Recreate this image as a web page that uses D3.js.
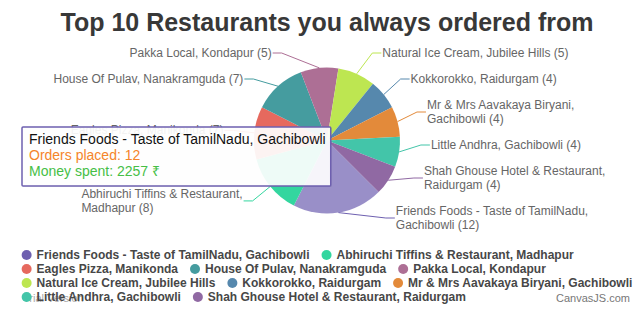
<!DOCTYPE html>
<html>
<head>
<meta charset="utf-8">
<script src="https://cdn.jsdelivr.net/npm/d3@7"></script>
<style>
  body { margin: 0; background: #fff; }
  svg { display: block; font-family: "Liberation Sans", Arial, sans-serif; }
</style>
</head>
<body>
<div id="chart"></div>
<script>
// data
const restaurants = [
  "Friends Foods - Taste of TamilNadu, Gachibowli",
  "Abhiruchi Tiffins & Restaurant, Madhapur",
  "Eagles Pizza, Manikonda",
  "House Of Pulav, Nanakramguda",
  "Pakka Local, Kondapur",
  "Natural Ice Cream, Jubilee Hills",
  "Kokkorokko, Raidurgam",
  "Mr & Mrs Aavakaya Biryani, Gachibowli",
  "Little Andhra, Gachibowli",
  "Shah Ghouse Hotel & Restaurant, Raidurgam"
];
const orders = [12, 8, 7, 7, 5, 5, 4, 4, 4, 4];
const sliceColors = ["#6e60b0", "#33d69f", "#e6695e", "#459c9f", "#ad6f95",
  "#bde651", "#5688ad", "#e38a3a", "#43c5a9", "#9069a3"];

// tooltip shown for the hovered slice
const hoveredIndex = 0;
const moneySpent = 2257;

const titleText = "Top 10 Restaurants you always ordered from";

const width = 635, height = 319;
const cx = 327, cy = 140.5, radius = 73;
const labelRadius = 103, labelYRadius = 96;
const plotTop = 46, plotBottom = 232;
const lineH = 14, labelGap = 12, labelMaxW = 200;

const svg = d3.select("#chart").append("svg")
  .attr("width", width)
  .attr("height", height);

// titulo
svg.append("text")
  .attr("x", cx)
  .attr("y", 31)
  .attr("text-anchor", "middle")
  .attr("font-size", 25)
  .attr("font-weight", "bold")
  .attr("fill", "#383838")
  .text(titleText);

// helper to measure text widths
const measure = svg.append("text").attr("font-size", 12).attr("x", -999);
function textW(s, size, weight) {
  measure.attr("font-size", size).attr("font-weight", weight || "normal").text(s);
  return measure.node().getComputedTextLength();
}

const pie = d3.pie().sort(null).value(d => d)
  .startAngle(Math.PI * 0.75)
  .endAngle(Math.PI * 2.75);
const arcs = pie(orders);
const arc = d3.arc().innerRadius(0).outerRadius(radius);

const pieG = svg.append("g").attr("transform", `translate(${cx},${cy})`);
pieG.selectAll("path")
  .data(arcs)
  .join("path")
  .attr("d", arc)
  .attr("fill", (d, i) => sliceColors[i])
  .attr("fill-opacity", (d, i) => i === hoveredIndex ? 0.7 : 1);

// index labels
function wrapWords(s, maxW) {
  const words = s.split(" ");
  const lines = [];
  let cur = "";
  words.forEach(w => {
    const t = cur ? cur + " " + w : w;
    if (cur && textW(t, 12) > maxW) { lines.push(cur); cur = w; }
    else cur = t;
  });
  lines.push(cur);
  return lines;
}

const labels = arcs.map((a, i) => {
  const theta = (a.startAngle + a.endAngle) / 2 - Math.PI / 2;
  const lines = wrapWords(`${restaurants[i]} (${orders[i]})`, labelMaxW);
  return {
    i, theta, lines,
    right: Math.cos(theta) >= 0,
    h: lines.length * lineH,
    w: d3.max(lines, ln => textW(ln, 12)),
    y: cy + labelYRadius * Math.sin(theta)
  };
});

[true, false].forEach(side => {
  const s = labels.filter(l => l.right === side).sort((a, b) => a.y - b.y);
  // push down from top
  s.forEach((l, k) => {
    let minY = plotTop + l.h / 2;
    if (k > 0) minY = Math.max(minY, s[k - 1].y + s[k - 1].h / 2 + labelGap + l.h / 2);
    l.y = Math.max(l.y, minY);
  });
  // push up from bottom
  for (let k = s.length - 1; k >= 0; k--) {
    const l = s[k];
    let maxY = plotBottom - l.h / 2;
    if (k < s.length - 1) maxY = Math.min(maxY, s[k + 1].y - s[k + 1].h / 2 - labelGap - l.h / 2);
    l.y = Math.min(l.y, maxY);
  }
});

labels.forEach(l => {
  const dy = l.y - cy;
  const dx = Math.sqrt(Math.max(0, labelRadius * labelRadius - dy * dy));
  l.x = l.right ? cx + dx : cx - dx;
});

const labelG = svg.append("g");
labelG.selectAll("path")
  .data(labels)
  .join("path")
  .attr("fill", "none")
  .attr("stroke", d => sliceColors[d.i])
  .attr("stroke-width", 1)
  .attr("d", d => {
    const ex = cx + radius * Math.cos(d.theta), ey = cy + radius * Math.sin(d.theta);
    const kx = d.right ? d.x - 9 : d.x + 9;
    return `M${ex},${ey}L${kx},${d.y}L${d.x},${d.y}`;
  });

// label block is left aligned inside its box on both sides
labelG.selectAll("text")
  .data(labels)
  .join("text")
  .attr("font-size", 12)
  .attr("fill", "#666")
  .each(function (d) {
    const t = d3.select(this);
    const x0 = d.right ? d.x + 1 : d.x - 1 - d.w;
    d.lines.forEach((ln, k) => {
      t.append("tspan")
        .attr("x", x0)
        .attr("y", d.y - (d.lines.length - 1) * lineH / 2 + k * lineH + 4)
        .text(ln);
    });
  });

// legend
const legendMaxW = 620, itemGap = 12, markerR = 5;
const items = restaurants.map((name, i) => ({ name, i, w: 2 * markerR + 5 + textW(name, 12, "bold") }));
const rows = [[]];
let rowW = 0;
items.forEach(it => {
  const need = rowW === 0 ? it.w : rowW + itemGap + it.w;
  if (rowW > 0 && need > legendMaxW) { rows.push([it]); rowW = it.w; }
  else { rows[rows.length - 1].push(it); rowW = need; }
});
const rowWidths = rows.map(r => d3.sum(r, it => it.w) + itemGap * (r.length - 1));
const legendX = cx - d3.max(rowWidths) / 2;
const legendY = 255;

// watermark text sits under the legend
svg.append("text")
  .attr("x", 23).attr("y", 302)
  .attr("font-size", 11).attr("fill", "#aaa")
  .text("Trial Version");
svg.append("text")
  .attr("x", 630).attr("y", 302)
  .attr("text-anchor", "end")
  .attr("font-size", 11).attr("fill", "#777")
  .text("CanvasJS.com");

const legendG = svg.append("g");
rows.forEach((r, ri) => {
  let x = legendX;
  r.forEach(it => {
    const g = legendG.append("g").attr("transform", `translate(${x},${legendY + ri * lineH})`);
    g.append("circle").attr("cx", markerR).attr("cy", 0).attr("r", markerR).attr("fill", sliceColors[it.i]);
    g.append("text")
      .attr("x", 2 * markerR + 5)
      .attr("y", 4)
      .attr("font-size", 12)
      .attr("font-weight", "bold")
      .attr("fill", "#474747")
      .text(it.name);
    x += it.w + itemGap;
  });
});

// tooltip
const tipLines = [
  { text: restaurants[hoveredIndex], color: "#111" },
  { text: `Orders placed: ${orders[hoveredIndex]}`, color: "#f5852a" },
  { text: `Money spent: ${moneySpent} ₹`, color: "#46bf46" }
];
const tipW = d3.max(tipLines, t => textW(t.text, 14)) + 12;
const tipG = svg.append("g").attr("transform", "translate(22,127)");
tipG.append("rect")
  .attr("x", 1).attr("y", 1)
  .attr("width", tipW).attr("height", 59)
  .attr("fill", "rgba(0,0,0,0.06)");
tipG.append("rect")
  .attr("width", tipW).attr("height", 59)
  .attr("rx", 1)
  .attr("fill", "#fff").attr("fill-opacity", 0.92)
  .attr("stroke", sliceColors[hoveredIndex])
  .attr("stroke-width", 1.5);
tipG.selectAll("text.tip")
  .data(tipLines)
  .join("text")
  .attr("class", "tip")
  .attr("x", 7)
  .attr("y", (d, k) => 17 + k * 16)
  .attr("font-size", 14)
  .attr("fill", d => d.color)
  .text(d => d.text);

measure.remove();
</script>
</body>
</html>
